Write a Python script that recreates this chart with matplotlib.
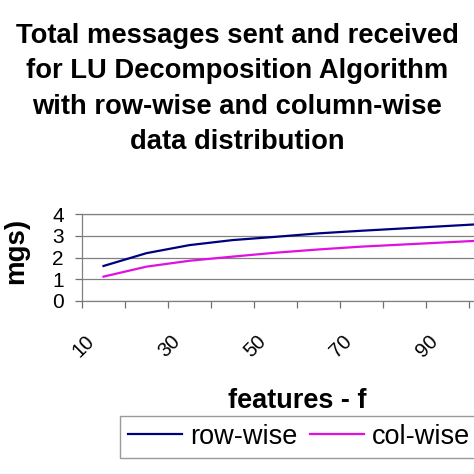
"""
Total messages sent and received for LU decomposition (row-wise vs col-wise)
"""
import matplotlib
matplotlib.use('Agg')
import matplotlib.pyplot as plt
from matplotlib.transforms import ScaledTranslation

plt.rcParams['font.family'] = ['Liberation Sans', 'DejaVu Sans']

# data
features = [10, 20, 30, 40, 50, 60, 70, 80, 90, 100]
row_wise = [1.61, 2.20, 2.57, 2.80, 2.95, 3.11, 3.23, 3.34, 3.45, 3.56]
col_wise = [1.12, 1.58, 1.85, 2.04, 2.22, 2.37, 2.50, 2.60, 2.70, 2.80]
y_ticks = [0, 1, 2, 3, 4]

title = ('Total messages sent and received\n'
         'for LU Decomposition Algorithm\n'
         'with row-wise and column-wise\n'
         'data distribution')

fig = plt.figure(figsize=(4.74, 4.74), dpi=100)
# axes runs off the right edge like the cropped original
ax = fig.add_axes([82/474, 1 - 301/474, 430/474, 87/474])

pos = list(range(1, len(features) + 1))
ax.plot(pos, row_wise, color='#000080', lw=1.6, label='row-wise')
ax.plot(pos, col_wise, color='#e010e0', lw=1.6, label='col-wise')

ax.set_xlim(0.5, len(features) + 0.5)
ax.set_ylim(0, 4)
ax.set_yticks(y_ticks)
ax.yaxis.grid(True, color='#808080', lw=0.9)
ax.set_axisbelow(True)

# category boundaries get tick marks, every other category gets a label
ax.set_xticks([p - 0.5 for p in pos] + [len(features) + 0.5])
ax.set_xticklabels([])
ax.set_xticks(pos[::2], minor=True)
ax.set_xticklabels([str(f) for f in features[::2]], minor=True,
                   rotation=45, ha='right', va='top', rotation_mode='anchor',
                   fontsize=14.5)
ax.tick_params(axis='x', which='minor', length=0, pad=0)
ax.tick_params(axis='x', which='major', length=5, color='#707070', width=0.9)
ax.tick_params(axis='y', length=5, color='#707070', width=0.9, pad=8,
               labelsize=15)
shift = ScaledTranslation(-0.19, -0.31, fig.dpi_scale_trans)
for lab in ax.get_xticklabels(minor=True):
    lab.set_transform(lab.get_transform() + shift)

for s in ax.spines.values():
    s.set_color('#808080')
    s.set_linewidth(0.9)

fig.text(0.5, 1 - 89/474, title, ha='center', va='center', fontsize=19.7,
         fontweight='bold', linespacing=1.46)
fig.text(16/474, 1 - 251/474, 'mgs)', rotation=90, ha='center', va='center',
         fontsize=20, fontweight='bold')
fig.text(297/474, 1 - 401/474, 'features - f', ha='center', va='center',
         fontsize=19.5, fontweight='bold')

fig.legend(loc='lower left', bbox_to_anchor=(120/474, 1 - 458/474),
           ncol=2, fontsize=19.5, frameon=True, fancybox=False,
           edgecolor='#808080', handlelength=2.0, handletextpad=0.3,
           columnspacing=0.45, borderpad=0.3, borderaxespad=0)

fig.savefig('out.png', dpi=100)
